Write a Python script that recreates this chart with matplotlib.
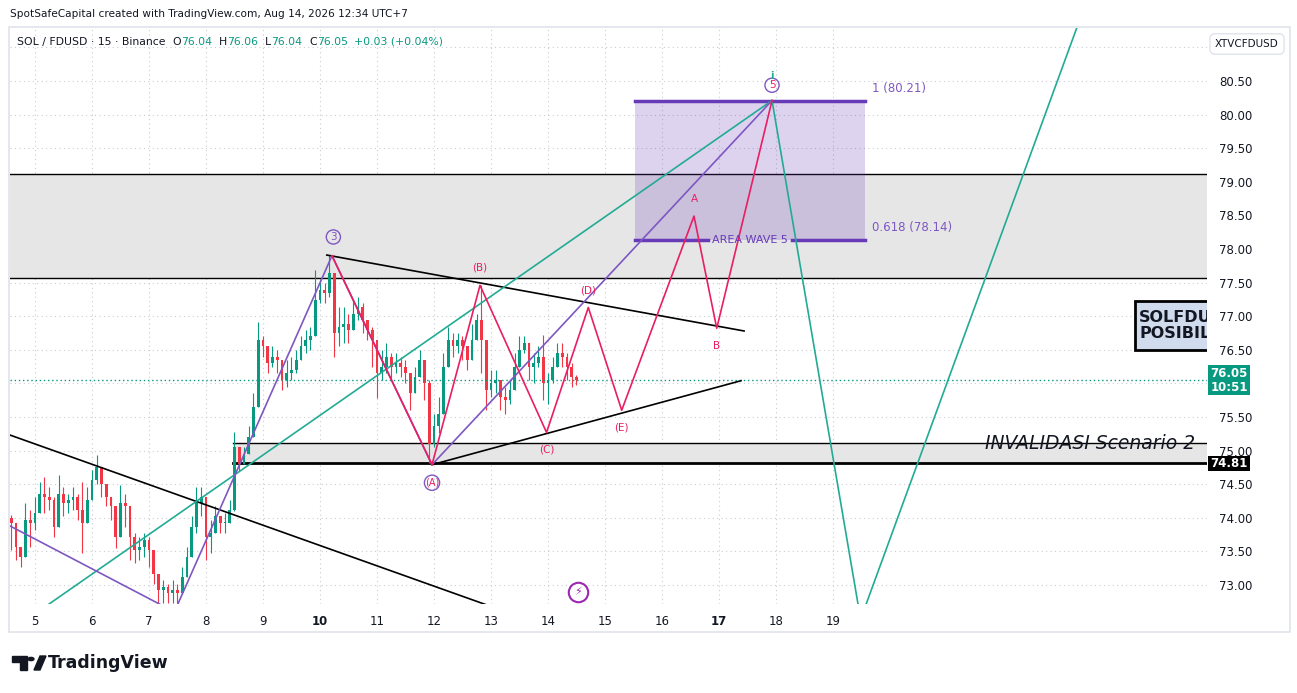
import numpy as np
import matplotlib
matplotlib.use('Agg')
from matplotlib import pyplot as plt
from matplotlib.patches import Rectangle, Polygon, Circle
from matplotlib.transforms import blended_transform_factory

W, H = 1297, 693

FIRST_DAY = 4.583
STEP = 1 / 12
first_open = 74.00
closes = [
    73.92, 73.57, 73.42, 73.97, 73.92, 74.07, 74.36, 74.31, 74.26, 73.87,
    74.36, 74.22, 74.26, 74.31, 74.12, 73.92, 74.26, 74.56, 74.76, 74.51,
    74.31, 74.17, 73.72, 74.22, 74.17, 73.72, 73.52, 73.57, 73.67, 73.52,
    73.17, 72.93, 72.97, 72.88, 72.93, 72.88, 73.12, 73.42, 73.87, 74.22,
    74.31, 73.72, 73.77, 74.02, 73.92, 73.92, 74.12, 75.05, 74.80, 74.95,
    75.20, 75.65, 76.65, 76.55, 76.30, 76.40, 76.35, 76.05, 76.15, 76.20,
    76.35, 76.55, 76.65, 76.70, 77.24, 77.39, 77.34, 77.64, 76.75, 76.84,
    76.89, 76.79, 77.04, 77.14, 76.94, 76.79, 76.65, 76.15, 76.25, 76.40,
    76.25, 76.30, 76.25, 76.15, 75.85, 76.10, 76.35, 76.00, 75.10, 75.36,
    75.55, 76.25, 76.65, 76.55, 76.65, 76.55, 76.35, 76.65, 76.94, 76.65,
    75.90, 76.00, 76.05, 75.80, 75.75, 75.90, 76.25, 76.50, 76.60, 76.25,
    76.30, 76.40, 76.00, 76.05, 76.25, 76.45, 76.40, 76.25, 76.10, 76.05,
]
highs = [
    74.04, 73.77, 73.57, 74.22, 74.12, 74.31, 74.54, 74.61, 74.46, 74.31,
    74.64, 74.46, 74.36, 74.46, 74.36, 74.54, 74.46, 74.71, 74.93, 74.71,
    74.46, 74.31, 74.07, 74.49, 74.36, 73.92, 73.77, 73.72, 73.77, 73.72,
    73.37, 73.12, 73.07, 73.02, 73.07, 73.02, 73.27, 73.57, 74.02, 74.46,
    74.46, 74.22, 73.97, 74.17, 74.02, 74.07, 74.26, 75.28, 74.98, 75.06,
    75.36, 75.85, 76.92, 76.70, 76.50, 76.55, 76.50, 76.25, 76.35, 76.40,
    76.50, 76.70, 76.79, 76.84, 77.69, 77.54, 77.49, 77.91, 77.39, 77.14,
    77.14, 77.04, 77.24, 77.29, 77.19, 76.89, 76.84, 76.50, 76.50, 76.60,
    76.45, 76.45, 76.40, 76.35, 76.10, 76.25, 76.50, 76.25, 76.05, 75.55,
    75.80, 76.45, 76.84, 76.75, 76.75, 76.70, 76.50, 76.89, 77.04, 77.46,
    76.25, 76.20, 76.20, 76.05, 75.95, 76.05, 76.45, 76.70, 76.70, 76.45,
    76.45, 76.55, 76.72, 76.15, 76.40, 76.60, 76.60, 76.45, 76.30, 76.12,
]
lows = [
    73.52, 73.37, 73.27, 73.72, 73.57, 73.82, 74.17, 74.07, 74.12, 73.72,
    74.12, 74.02, 74.07, 74.12, 73.97, 73.47, 73.97, 74.31, 74.51, 74.31,
    74.17, 73.97, 73.55, 73.97, 73.87, 73.37, 73.32, 73.37, 73.42, 73.27,
    73.02, 72.73, 72.73, 72.73, 72.73, 72.73, 72.88, 73.17, 73.67, 73.77,
    74.02, 73.37, 73.47, 73.82, 73.77, 73.77, 73.97, 74.10, 74.70, 74.84,
    75.06, 75.46, 75.75, 76.40, 76.15, 76.25, 76.15, 75.90, 75.95, 76.05,
    76.15, 76.35, 76.45, 76.50, 76.94, 77.19, 77.19, 77.29, 76.40, 76.55,
    76.60, 76.60, 76.84, 76.94, 76.75, 76.65, 76.25, 75.78, 76.05, 76.15,
    76.05, 76.15, 76.10, 76.00, 75.60, 75.90, 76.15, 75.75, 74.81, 75.06,
    75.26, 76.05, 76.45, 76.40, 76.45, 76.35, 76.20, 76.45, 76.79, 76.15,
    75.60, 75.80, 75.85, 75.60, 75.55, 75.70, 76.00, 76.30, 76.45, 76.05,
    76.00, 76.25, 75.75, 75.70, 76.00, 76.30, 76.25, 76.05, 75.95, 75.98,
]

price_ticks = np.arange(73.0, 81.01, 0.5)
hidden_ticks = [76.0, 81.0]   # covered by the last-price label / symbol box
day_ticks = list(range(5, 20))
bold_days = [10, 17]

# drawings on the chart, as (day, price)
purple_days = [4.40, 7.446, 10.21, 11.965, 17.93]
purple_prices = [73.95, 72.60, 77.90, 74.79, 80.21]
pink_days = [10.21, 11.965, 12.807, 13.974, 14.707, 15.293, 16.561, 16.96, 17.93]
pink_prices = [77.90, 74.79, 77.46, 75.27, 77.13, 75.60, 78.49, 76.82, 80.21]
pink_labels = ['', '(A)', '(B)', '(C)', '(D)', '(E)', 'A', 'B', '']
green_days = [5.1, 17.93, 19.484, 23.5]
green_prices = [72.63, 80.21, 72.49, 81.81]
black_lines = [
    ((4.40, 75.28), (13.2, 72.62)),
    ((10.12, 77.91), (17.44, 76.78)),
    ((11.965, 74.79), (17.386, 76.04)),
]
upper_zone = (77.57, 79.12)
lower_zone = (74.81, 75.11)
lower_zone_start = 8.47
wave5_days = (15.53, 19.56)
wave5_levels = (78.14, 80.21)
last_price = 76.05
ohlc_header = [('O', '76.04'), ('H', '76.06'), ('L', '76.04'), ('C', '76.05')]
change_text = '+0.03 (+0.04%)'

GREEN = '#089981'
RED = '#f23645'
PINK = '#e91e63'
PURPLE = '#7e57c2'
DEEP_PURPLE = '#673ab7'
TEAL = '#22ab94'
TXT = '#131722'

fig = plt.figure(figsize=(W / 100, H / 100), dpi=100)
ax = fig.add_axes([10 / W, 1 - 604 / H, 1197 / W, 576 / H])
ax.set_xlim(4.5614, 25.561)
ax.set_ylim(72.717, 81.289)
for s in ax.spines.values():
    s.set_visible(False)

ax.set_xticks(day_ticks)
ax.set_xticklabels([str(d) for d in day_ticks])
for lab, d in zip(ax.get_xticklabels(), day_ticks):
    if d in bold_days:
        lab.set_fontweight('bold')
ax.set_yticks(price_ticks)
ax.set_yticklabels(['' if any(abs(p - h) < 1e-6 for h in hidden_ticks) else f"{p:.2f}"
                    for p in price_ticks])
ax.yaxis.tick_right()
ax.tick_params(axis='y', length=0, pad=9, labelsize=8.5, labelcolor=TXT)
ax.tick_params(axis='x', length=0, pad=8, labelsize=8.5, labelcolor=TXT)
ax.grid(True, linestyle=(0, (1, 3)), color='#c9ccd3', linewidth=0.8, zorder=0)
ax.set_axisbelow(True)

# zones
ax.axhspan(*upper_zone, color='#e6e6e6', zorder=0.6, lw=0)
for lv in upper_zone:
    ax.axhline(lv, color='black', lw=1, zorder=1)
ax.add_patch(Rectangle((lower_zone_start, lower_zone[0]), 30, lower_zone[1] - lower_zone[0],
                       facecolor='#e6e6e6', lw=0, zorder=0.6))
ax.plot([lower_zone_start, 40], [lower_zone[1]] * 2, color='black', lw=1, zorder=1)
ax.plot([lower_zone_start, 40], [lower_zone[0]] * 2, color='black', lw=2, zorder=1)

# candles
c = np.array(closes)
o = np.array([first_open] + closes[:-1])
hi = np.maximum(np.array(highs), np.maximum(o, c))
lo = np.minimum(np.array(lows), np.minimum(o, c))
t = FIRST_DAY + STEP * np.arange(len(c))
cols = [GREEN if cc >= oo else RED for oo, cc in zip(o, c)]
ax.vlines(t, lo, hi, colors=cols, lw=0.8, zorder=2)
ax.bar(t, np.maximum(np.abs(c - o), 0.012), bottom=np.minimum(o, c), width=STEP * 0.6,
       color=cols, lw=0, zorder=2)

ax.axhline(last_price, color=GREEN, linestyle=(0, (1, 2)), lw=1, zorder=2.2)

# wave 5 target box
ax.add_patch(Rectangle((wave5_days[0], wave5_levels[0]), wave5_days[1] - wave5_days[0],
                       wave5_levels[1] - wave5_levels[0], facecolor=DEEP_PURPLE, alpha=0.22,
                       lw=0, zorder=2.5))
ax.plot(wave5_days, [wave5_levels[1]] * 2, color=DEEP_PURPLE, lw=2.5, zorder=3)
ax.plot([wave5_days[0], 16.81], [wave5_levels[0]] * 2, color=DEEP_PURPLE, lw=2.5, zorder=3)
ax.plot([18.28, wave5_days[1]], [wave5_levels[0]] * 2, color=DEEP_PURPLE, lw=2.5, zorder=3)
ax.text(17.544, wave5_levels[0], 'AREA WAVE 5', color=DEEP_PURPLE, fontsize=8,
        ha='center', va='center', zorder=4)
ax.annotate('1 (80.21)', (19.68, wave5_levels[1]), xytext=(0, 9), textcoords='offset points',
            color=PURPLE, fontsize=8.5, ha='left', va='center')
ax.annotate('0.618 (78.14)', (19.68, wave5_levels[0]), xytext=(0, 9), textcoords='offset points',
            color=PURPLE, fontsize=8.5, ha='left', va='center')

# lines
for (x0, y0), (x1, y1) in black_lines:
    ax.plot([x0, x1], [y0, y1], color='black', lw=1.2, zorder=3)
ax.plot(green_days, green_prices, color=TEAL, lw=1.2, zorder=3)
ax.plot(purple_days, purple_prices, color=PURPLE, lw=1.2, zorder=3)
ax.plot(pink_days, pink_prices, color=PINK, lw=1.2, zorder=3.1)

for i, (d, p, lab) in enumerate(zip(pink_days, pink_prices, pink_labels)):
    if not lab or lab == '(A)':
        continue
    peak = p > pink_prices[i - 1]
    ax.annotate(lab, (d, p), xytext=(0, 12.5 if peak else -12.5), textcoords='offset points',
                color=PINK, fontsize=7.5, ha='center', va='center', zorder=5)

circ = dict(boxstyle='circle,pad=0.2', fc='none', ec=PURPLE, lw=1)
ax.annotate('3', (purple_days[2], purple_prices[2]), xytext=(1, 13.5), textcoords='offset points',
            color=PURPLE, fontsize=7.5, ha='center', va='center', bbox=circ, zorder=5)
# wave 4 and (A) share the same low: pink label inside the purple circle
ax.annotate('(A)', (purple_days[3], purple_prices[3]), xytext=(0, -13), textcoords='offset points',
            color=PINK, fontsize=7, ha='center', va='center',
            bbox=dict(boxstyle='circle,pad=0.05', fc='none', ec=PURPLE, lw=1), zorder=5)
ax.annotate('5', (purple_days[4], purple_prices[4]), xytext=(0, 11), textcoords='offset points',
            color=PINK, fontsize=7.5, ha='center', va='center', bbox=circ, zorder=5)
ax.annotate('i', (purple_days[4], purple_prices[4]), xytext=(0, 18), textcoords='offset points',
            color=TEAL, fontsize=7, fontweight='bold', ha='center', va='center', zorder=5)

ax.text(21.67, 75.10, 'INVALIDASI Scenario 2', fontsize=13.5, style='italic', color=TXT,
        ha='left', va='center', zorder=5)

ax.add_patch(Rectangle((24.30, 76.50), 3, 0.73, facecolor='#d0dbee', edgecolor='black',
                       lw=2, zorder=5))
ax.text(24.37, 76.865, 'SOLFDU\nPOSIBIL', fontsize=11.5, fontweight='bold', color=TXT,
        ha='left', va='center', linespacing=1.05, zorder=6, clip_on=True)

ax.plot(14.526, 72.90, marker='o', ms=14, mfc='white', mec='#9c27b0', mew=1.5, zorder=5)
ax.text(14.526, 72.90, '\u26a1', color='#9c27b0', fontsize=8, ha='center', va='center', zorder=6)

# price axis labels
tr = blended_transform_factory(ax.transAxes, ax.transData)
ax.add_patch(Rectangle((1.0008, last_price - 0.225), 0.0355, 0.45, transform=tr,
                       facecolor=GREEN, lw=0, clip_on=False, zorder=6))
ax.text(1.0185, last_price + 0.1, f"{last_price:.2f}", transform=tr, color='white',
        fontsize=8.5, fontweight='bold', ha='center', va='center', clip_on=False, zorder=7)
ax.text(1.0185, last_price - 0.11, '10:51', transform=tr, color='white',
        fontsize=8.5, fontweight='bold', ha='center', va='center', clip_on=False, zorder=7)
ax.add_patch(Rectangle((1.0008, lower_zone[0] - 0.115), 0.0355, 0.23, transform=tr,
                       facecolor='black', lw=0, clip_on=False, zorder=6))
ax.text(1.0185, lower_zone[0], f"{lower_zone[0]:.2f}", transform=tr, color='white',
        fontsize=8.5, fontweight='bold', ha='center', va='center', clip_on=False, zorder=7)


def ftext(x, y, s, **kw):
    return fig.text(x / W, 1 - y / H, s, va='center', **kw)


fig.patches.append(Rectangle((9 / W, 1 - 632 / H), 1281 / W, 605 / H, transform=fig.transFigure,
                             fill=False, edgecolor='#e0e3eb', lw=1.2))
ftext(10, 14, 'SpotSafeCapital created with TradingView.com, Aug 14, 2026 12:34 UTC+7',
      fontsize=7.6, color=TXT)

# legend line: pieces placed one after the other
renderer = fig.canvas.get_renderer()
pieces = [('SOL / FDUSD \u00b7 15 \u00b7 Binance', TXT, 0)]
for k, v in ohlc_header:
    pieces += [(k, TXT, 7), (v, GREEN, 0)]
pieces.append((change_text, GREEN, 6))
x = 17
for s, col, gap in pieces:
    x += gap
    txt = ftext(x, 42, s, fontsize=7.8, color=col)
    x = txt.get_window_extent(renderer).x1

fig.text(1247 / W, 1 - 44 / H, 'XTVCFDUSD', fontsize=7.5, color=TXT, ha='center', va='center',
         bbox=dict(boxstyle='round,pad=0.5', fc='white', ec='#e0e3eb', lw=1))


# TradingView logo
def fpoly(pts, **kw):
    fig.patches.append(Polygon([(x / W, 1 - y / H) for x, y in pts], closed=True,
                               transform=fig.transFigure, **kw))


fpoly([(12, 656), (27, 656), (27, 670), (20, 670), (20, 662), (12, 662)], color=TXT)
fig.patches.append(Circle((31 / W, 1 - 659 / H), 3 / W, transform=fig.transFigure, color=TXT))
fpoly([(34, 670), (40, 656), (46, 656), (40, 670)], color=TXT)
ftext(48, 663, 'TradingView', fontsize=12.5, fontweight='bold', color=TXT)

fig.savefig('out.png', dpi=100)
